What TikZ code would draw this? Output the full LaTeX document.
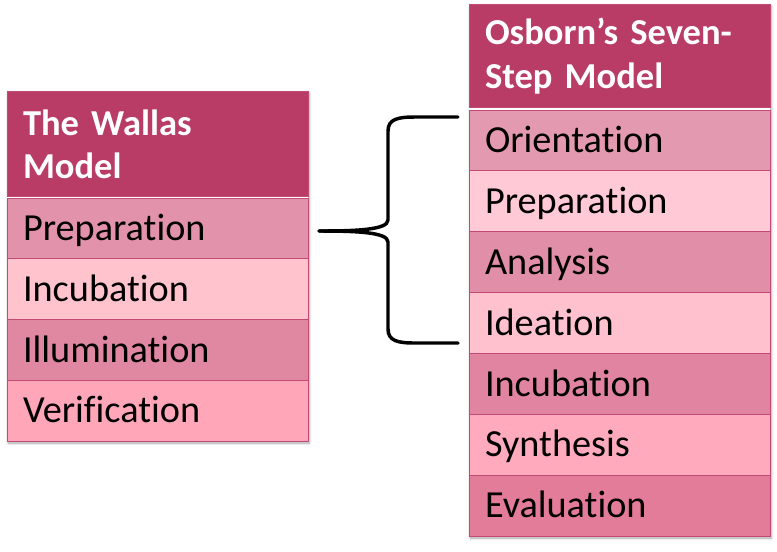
\documentclass[tikz,border=0pt]{standalone}
\usepackage{fontspec}
\setmainfont{Carlito}[Ligatures={NoCommon,NoContextual}]
\usetikzlibrary{shadows.blur}
\definecolor{hdr}{HTML}{B83C66}
\definecolor{edge}{HTML}{C24A74}
\definecolor{lA}{HTML}{E293AB}
\definecolor{lB}{HTML}{FFC3CE}
\definecolor{lC}{HTML}{E087A2}
\definecolor{lD}{HTML}{FFA6B9}
\definecolor{rA}{HTML}{E399AF}
\definecolor{rB}{HTML}{FFCAD5}
\definecolor{rC}{HTML}{E18FA9}
\definecolor{rD}{HTML}{FFC1CE}
\definecolor{rE}{HTML}{E084A1}
\definecolor{rF}{HTML}{FFAABD}
\definecolor{rG}{HTML}{E27C98}
\begin{document}
\begin{tikzpicture}[x=0.75pt,y=-0.75pt,
  cell/.style={draw=edge, line width=0.75pt, minimum width=225.75pt, minimum height=45.6pt,
    inner xsep=12pt, inner ysep=0pt, text width=201.75pt, align=left,
    font=\fontsize{28.7}{35}\selectfont, text height=18.2pt, text depth=0pt},
  head/.style={fill=hdr, draw=edge, line width=0.75pt, minimum width=225.75pt,
    inner xsep=12pt, inner ysep=0pt, text width=201.75pt, align=left, text=white,
    font=\bfseries\fontsize{27.4}{32.5}\selectfont},
  back/.style={fill=white, blur shadow={shadow xshift=1pt, shadow yshift=-1.5pt, shadow blur radius=2pt, shadow opacity=35}},
  bracestyle/.style={line width=2.6pt, line cap=round, line join=round}]
\useasboundingbox (0,0) rectangle (777,551);
% left table
\path[back] (7,91) rectangle (308,441);
\node[head, minimum height=78.75pt] (wh) at (157.5,144) {The Wallas\\Model};
\node[cell, fill=lA] (w1) at (157.5,228.4) {Preparation};
\node[cell, fill=lB] (w2) at (157.5,289.1) {Incubation};
\node[cell, fill=lC] (w3) at (157.5,349.9) {Illumination};
\node[cell, fill=lD] (w4) at (157.5,410.6) {Verification};
% right table
\path[back] (469,4) rectangle (770,536);
\node[head, minimum height=77.25pt] (oh) at (619.5,56) {Osborn’s Seven-\\Step Model};
\node[cell, fill=rA] (o1) at (619.5,140.4) {Orientation};
\node[cell, fill=rB] (o2) at (619.5,201.3) {Preparation};
\node[cell, fill=rC] (o3) at (619.5,262.2) {Analysis};
\node[cell, fill=rD] (o4) at (619.5,323.0) {Ideation};
\node[cell, fill=rE] (o5) at (619.5,383.9) {Incubation};
\node[cell, fill=rF] (o6) at (619.5,444.7) {Synthesis};
\node[cell, fill=rG] (o7) at (619.5,505.6) {Evaluation};
% brace
\coordinate (tip) at (319,231);
\coordinate (btop) at (458,117);
\coordinate (bbot) at (458,343);
\draw[bracestyle] (tip) .. controls (355,231) and (388,230) .. (388,220)
  -- (388,131) .. controls (388,119) and (398,117) .. (415,117) -- (btop);
\draw[bracestyle] (tip) .. controls (355,231) and (388,232) .. (388,242)
  -- (388,329) .. controls (388,341) and (398,343) .. (415,343) -- (bbot);
\end{tikzpicture}
\end{document}
